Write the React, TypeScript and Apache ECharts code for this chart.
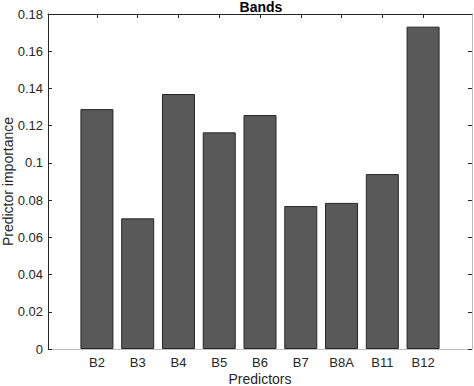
import React, { useEffect, useRef } from "react";
import * as echarts from "echarts";

const categories = ["B2", "B3", "B4", "B5", "B6", "B7", "B8A", "B11", "B12"];
const importance = [0.1289, 0.0702, 0.137, 0.1164, 0.1257, 0.0768, 0.0785, 0.094, 0.1732];
const yTicks = { min: 0, max: 0.18, interval: 0.02 };
const positions = categories.map((_, i) => i + 1);

export default function App() {
  const ref = useRef<HTMLDivElement>(null);
  useEffect(() => {
    if (!ref.current) return;
    const chart = echarts.init(ref.current, undefined, { renderer: "svg" });
    const font = "'Liberation Sans', Arial, sans-serif";
    const dark = "#262626";
    const light = "#bdbdbd";
    chart.setOption({
      animation: false,
      backgroundColor: "#ffffff",
      title: {
        text: "Bands",
        left: 261,
        textAlign: "center",
        top: 0,
        padding: 0,
        textStyle: { fontFamily: font, fontSize: 14, fontWeight: "bold", color: "#000" },
      },
      grid: { left: 48, right: 2, top: 14, bottom: 37, containLabel: false, outerBoundsMode: "none" },
      xAxis: [
        {
          type: "value",
          min: -0.2,
          max: 10.2,
          position: "bottom",
          name: "Predictors",
          nameLocation: "middle",
          nameGap: 23,
          nameMoveOverlap: false,
          nameTextStyle: { fontFamily: font, fontSize: 14, color: dark },
          splitLine: { show: false },
          axisLine: { show: true, onZero: false, lineStyle: { color: light, width: 1 } },
          axisTick: { show: true, inside: true, length: 4, customValues: positions, lineStyle: { color: dark } },
          axisLabel: {
            show: true,
            customValues: positions,
            margin: 7,
            fontFamily: font,
            fontSize: 13,
            color: dark,
            formatter: (v: number) => categories[Math.round(v) - 1] ?? "",
          },
        },
        {
          type: "value",
          min: -0.2,
          max: 10.2,
          position: "top",
          splitLine: { show: false },
          axisLine: { show: true, onZero: false, lineStyle: { color: dark, width: 1 } },
          axisTick: { show: true, inside: true, length: 4, customValues: positions, lineStyle: { color: dark } },
          axisLabel: { show: false },
        },
      ],
      yAxis: [
        {
          type: "value",
          min: yTicks.min,
          max: yTicks.max,
          interval: yTicks.interval,
          position: "left",
          name: "Predictor importance",
          nameLocation: "middle",
          nameGap: 33,
          nameMoveOverlap: false,
          nameTextStyle: { fontFamily: font, fontSize: 14, color: dark },
          splitLine: { show: false },
          axisLine: { show: true, onZero: false, lineStyle: { color: dark, width: 1 } },
          axisTick: { show: true, inside: true, length: 4, lineStyle: { color: dark } },
          axisLabel: { margin: 5, fontFamily: font, fontSize: 13, color: dark },
        },
        {
          type: "value",
          min: yTicks.min,
          max: yTicks.max,
          interval: yTicks.interval,
          position: "right",
          splitLine: { show: false },
          axisLine: { show: true, onZero: false, lineStyle: { color: light, width: 1 } },
          axisTick: { show: true, inside: true, length: 4, lineStyle: { color: dark } },
          axisLabel: { show: false },
        },
      ],
      series: [
        {
          type: "bar",
          xAxisIndex: 0,
          yAxisIndex: 0,
          data: positions.map((p, i) => [p, importance[i]]),
          barWidth: 33,
          itemStyle: { color: "#595959", borderColor: "#262626", borderWidth: 1 },
        },
      ],
    });
    return () => chart.dispose();
  }, []);
  return <div ref={ref} style={{ width: 474, height: 386, position: "fixed", left: 0, top: 0 }} />;
}
